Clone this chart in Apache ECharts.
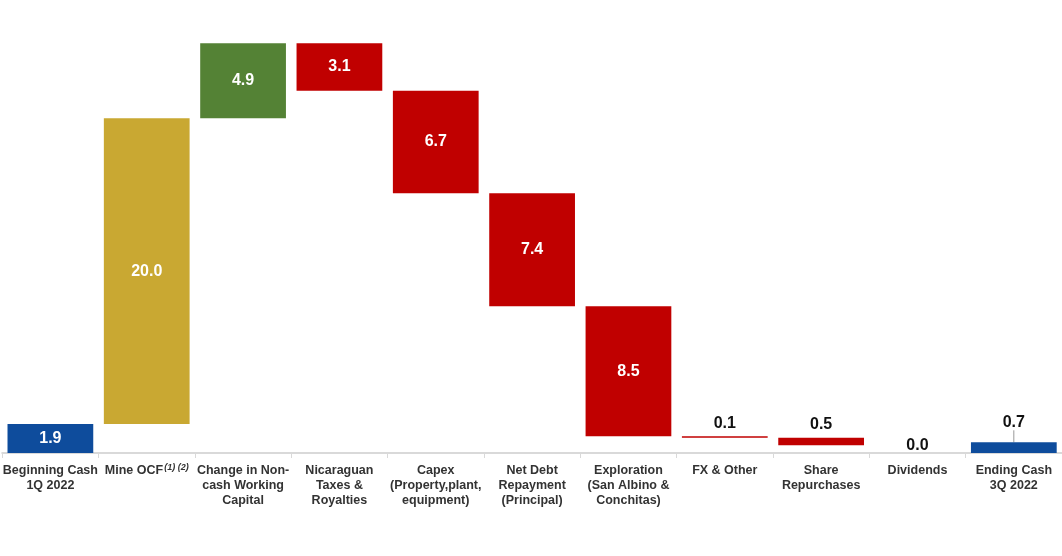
<!DOCTYPE html>
<html>
<head>
<meta charset="utf-8">
<script src="https://cdn.jsdelivr.net/npm/echarts@6/dist/echarts.min.js"></script>
<style>
  html, body { margin: 0; padding: 0; background: #fff; }
  #chart { width: 1062px; height: 556px; }
</style>
</head>
<body>
<div id="chart"></div>
<script>
// categories (x axis)
var categories = [
  'Beginning Cash\n1Q 2022',
  'Mine OCF',
  'Change in Non-\ncash Working\nCapital',
  'Nicaraguan\nTaxes &\nRoyalties',
  'Capex\n(Property,plant,\nequipment)',
  'Net Debt\nRepayment\n(Principal)',
  'Exploration\n(San Albino &\nConchitas)',
  'FX & Other',
  'Share\nRepurchases',
  'Dividends',
  'Ending Cash\n3Q 2022'
];
// signed changes; first and last are totals
var changes = [1.9, 20.0, 4.9, -3.1, -6.7, -7.4, -8.5, -0.1, -0.5, 0.0, 0.7];
var kinds = ['total', 'up', 'up', 'down', 'down', 'down', 'down', 'down', 'down', 'down', 'total'];

var colors = {
  total: '#0E4C9C',
  ocf: '#C9A832',
  up: '#548235',
  down: '#C00000'
};

// build the invisible base + visible bars
var base = [], bars = [];
var running = 0;
for (var i = 0; i < changes.length; i++) {
  var v = changes[i];
  var c;
  if (kinds[i] == 'total') {
    base.push(0);
    running = v;
    c = colors.total;
  } else if (v >= 0) {
    base.push(running);
    running += v;
    c = i == 1 ? colors.ocf : colors.up;
  } else {
    running += v;
    base.push(running);
    c = colors.down;
  }
  var abs = Math.abs(v);
  var lbl;
  if (abs >= 1.5) {
    lbl = { position: 'inside', color: '#fff' };
    if (i == 1) lbl.offset = [0, 11];
  } else if (abs == 0) {
    lbl = { position: 'inside', color: '#111' };
  } else {
    lbl = { position: 'top', color: '#111', distance: 5 };
  }
  var item = { value: abs, itemStyle: { color: c }, label: lbl };
  // small leader line on the ending cash label
  if (i == changes.length - 1) {
    item.labelLine = { show: true, lineStyle: { color: '#999', width: 1 } };
  }
  bars.push(item);
}

var myChart = echarts.init(document.getElementById('chart'));
var option = {
  animation: false,
  grid: { left: -1, right: -1, top: 25, bottom: 103 },
  xAxis: {
    type: 'category',
    data: categories,
    axisLine: { lineStyle: { color: '#d9d9d9', width: 2 } },
    axisTick: { show: true, interval: 0, length: 5, lineStyle: { color: '#d9d9d9' } },
    axisLabel: {
      interval: 0,
      margin: 10,
      color: '#333',
      fontFamily: 'Liberation Sans, Arial',
      fontWeight: 'bold',
      fontSize: 12.5,
      lineHeight: 15,
      formatter: function (val) {
        if (val == 'Mine OCF') return 'Mine OCF{sup|(1) (2)}';
        return val;
      },
      rich: {
        sup: {
          fontSize: 9, fontStyle: 'italic', fontWeight: 'bold',
          color: '#333', verticalAlign: 'top', padding: [0, 0, 8, 1]
        }
      }
    }
  },
  yAxis: {
    type: 'value', min: 0, max: 28, show: false,
    splitLine: { show: false }
  },
  series: [
    {
      type: 'bar', stack: 'wf', data: base,
      itemStyle: { color: 'transparent' },
      barCategoryGap: '11%', silent: true
    },
    {
      type: 'bar', stack: 'wf', data: bars,
      barCategoryGap: '11%',
      label: {
        show: true,
        fontFamily: 'Liberation Sans, Arial',
        fontWeight: 'bold',
        fontSize: 16,
        formatter: function (p) { return p.value.toFixed(1); }
      },
      labelLayout: function (p) {
        if (p.dataIndex == changes.length - 1) return { dy: -7 };
        return {};
      }
    }
  ]
};
myChart.setOption(option);
</script>
</body>
</html>
